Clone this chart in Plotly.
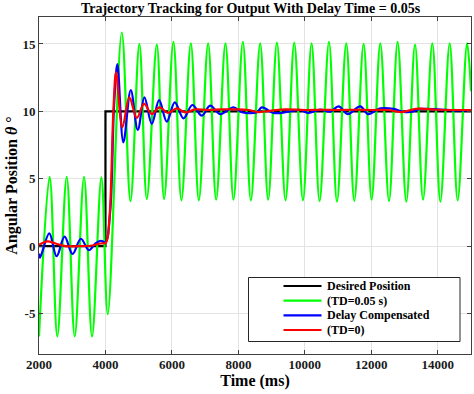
import plotly.graph_objects as go

FONT = "Liberation Serif, Times New Roman, serif"

# ---------------- data ----------------
desired_t = [2000, 4000, 4000, 15000]
desired_v = [0, 0, 10, 10]

green_t = [2000, 2320, 2551, 2834, 3075, 3355, 3596, 3878, 4069,
           4491, 4753, 5021, 5244, 5545, 5765, 6045, 6286, 6569, 6810,
           7090, 7331, 7611, 7852, 8135, 8376, 8656, 8897, 9159, 9419,
           9681, 9943, 10202, 10443, 10726, 10967, 11247, 11488, 11768,
           12009, 12271, 12533, 12792, 13054, 13316, 13557, 13837, 14078,
           14358, 14599, 14882, 15000]
green_v = [-6.7, 5.15, -6.7, 5.15, -6.7, 5.15, -6.7, 5.1, -5.05,
           15.85, 3.33, 15.0, 3.5, 14.95, 3.5, 15.15, 3.4, 15.05, 3.4,
           15.05, 3.45, 15.05, 3.45, 15.15, 3.4, 15.05, 3.45, 15.1, 3.4,
           15.1, 3.4, 15.05, 3.35, 15.15, 3.3, 15.05, 3.35, 15.0,
           3.45, 15.05, 3.35, 15.15, 3.3, 14.95, 3.45, 15.05, 3.3,
           15.05, 3.4, 15.05, 11.5]

blue_t = [2000, 2030, 2310, 2530, 2770, 3010, 3260, 3500, 3700, 3860, 4000,
          4140, 4260, 4359, 4539, 4762, 4973, 5172, 5394, 5614, 5846, 6087,
          6346, 6617, 6900, 7150, 7452, 7852, 8105, 8557, 8707, 9057, 9460,
          9862, 10111, 10464, 10765, 11015, 11290, 11669, 11900, 12271,
          12672, 12925, 13176, 13477, 14078, 14479, 15000]
blue_v = [-0.55, -0.85, 0.95, -0.75, 0.7, -0.58, 0.55, -0.3, 0.2, 0.4, 0.3,
          2.5, 10.5, 13.5, 7.7, 11.58, 8.62, 11.04, 9.07, 10.84, 9.24, 10.67,
          9.48, 10.47, 9.68, 10.42, 9.8, 10.3, 9.93, 9.93, 10.3, 9.88, 9.95,
          10.1, 9.88, 10.13, 9.98, 10.37, 9.8, 10.37, 9.8, 10.22,
          10.18, 9.98, 9.95, 10.18, 10.13, 10.08, 10.08]

red_t = [2000, 2250, 2500, 2800, 3200, 3600, 3850, 4010, 4117, 4238, 4320,
         4509, 4720, 4943, 5163, 5394, 5624, 5876, 6147, 6397, 6700, 7100,
         7500, 7900, 8300, 8600, 9000, 9400, 10000, 10500, 11000, 11500,
         12000, 12500, 12900, 13400, 14000, 15000]
red_v = [0.1, 0.35, 0.2, 0.0, 0.0, 0.05, 0.2, 0.25, 2.0, 10.0, 12.9,
         8.81, 11.04, 9.51, 10.55, 9.81, 10.3, 9.88, 10.22, 9.93, 10.15, 10.1,
         10.15, 10.15, 10.1, 9.95, 10.05, 10.15, 10.1, 10.12, 10.1, 10.12,
         10.1, 10.1, 9.95, 10.2, 10.12, 10.1]

series_names = ["Desired Position", "(TD=0.05 s)", "Delay Compensated", "(TD=0)"]
series_colors = ["#000000", "#00ff00", "#0000ff", "#ff0000"]

x_ticks = [2000, 4000, 6000, 8000, 10000, 12000, 14000]
x_ticktext = ["2000", "4000", "6000", "8000", "10000", "12000", "14000"]
y_ticks = [-5, 0, 5, 10, 15]
y_ticktext = ["-5", "0", "5", "10", "15"]

# ---------------- figure ----------------
fig = go.Figure()
series = [(desired_t, desired_v, "linear"),
          (green_t, green_v, "spline"),
          (blue_t, blue_v, "spline"),
          (red_t, red_v, "spline")]
for (t, v, shape), name, col in zip(series, series_names, series_colors):
    fig.add_trace(go.Scatter(x=t, y=v, mode="lines", name=name, showlegend=False,
                             line=dict(color=col, width=2.2, shape=shape), hoverinfo="skip"))

L, R, T, B = 39, 3, 17, 40
W, H = 474, 394
PW, PH = W - L - R, H - T - B


def px_x(px):
    return (px - L) / PW


def px_y(py):
    return (H - B - py) / PH


# legend box (drawn manually to match the MATLAB legend)
shapes = [dict(type="rect", xref="paper", yref="paper", layer="above",
               x0=px_x(248.5), x1=px_x(460), y0=px_y(341.5), y1=px_y(277.5),
               fillcolor="white", line=dict(color="#262626", width=1))]
annotations = []
rows = [286, 300.7, 315.3, 330]
for ry, name, col in zip(rows, series_names, series_colors):
    shapes.append(dict(type="line", xref="paper", yref="paper", layer="above",
                       x0=px_x(283.5), x1=px_x(321.5), y0=px_y(ry), y1=px_y(ry),
                       line=dict(color=col, width=2.2)))
    annotations.append(dict(xref="paper", yref="paper", x=px_x(325), y=px_y(ry),
                            xanchor="left", yanchor="middle", showarrow=False,
                            text=name, font=dict(family=FONT, size=12, color="black", weight="bold")))

axis_common = dict(showline=True, linecolor="#404040", linewidth=1, mirror="ticks",
                   ticks="inside", ticklen=4, tickcolor="#404040", automargin=False,
                   showgrid=True, gridcolor="#e3e3e3", gridwidth=1, zeroline=False,
                   tickfont=dict(family=FONT, size=13, color="#1a1a1a", weight="bold"))

fig.update_layout(
    width=W, height=H,
    margin=dict(l=L, r=R, t=T, b=B, autoexpand=False),
    paper_bgcolor="white", plot_bgcolor="white",
    title=dict(text="Trajectory Tracking for Output With Delay Time = 0.05s",
               x=px_x(250.5), xref="paper", xanchor="center",
               y=1 - 8.5 / H, yref="container", yanchor="middle",
               font=dict(family=FONT, size=14, color="black", weight="bold")),
    xaxis=dict(range=[2000, 15000], tickvals=x_ticks, ticktext=x_ticktext,
               ticklabelstandoff=-2,
               title=dict(text="Time (ms)", standoff=0,
                          font=dict(family=FONT, size=16, color="black", weight="bold")),
               **axis_common),
    yaxis=dict(range=[-8, 17], tickvals=y_ticks, ticktext=y_ticktext,
               ticklabelstandoff=0,
               title=dict(text="Angular Position <i>θ</i> °", standoff=0,
                          font=dict(family=FONT, size=16, color="black", weight="bold")),
               **axis_common),
    shapes=shapes,
    annotations=annotations,
    showlegend=False,
)

fig.write_html("out.html", config=dict(displayModeBar=False),
               post_script="document.body.style.margin='0px';")
